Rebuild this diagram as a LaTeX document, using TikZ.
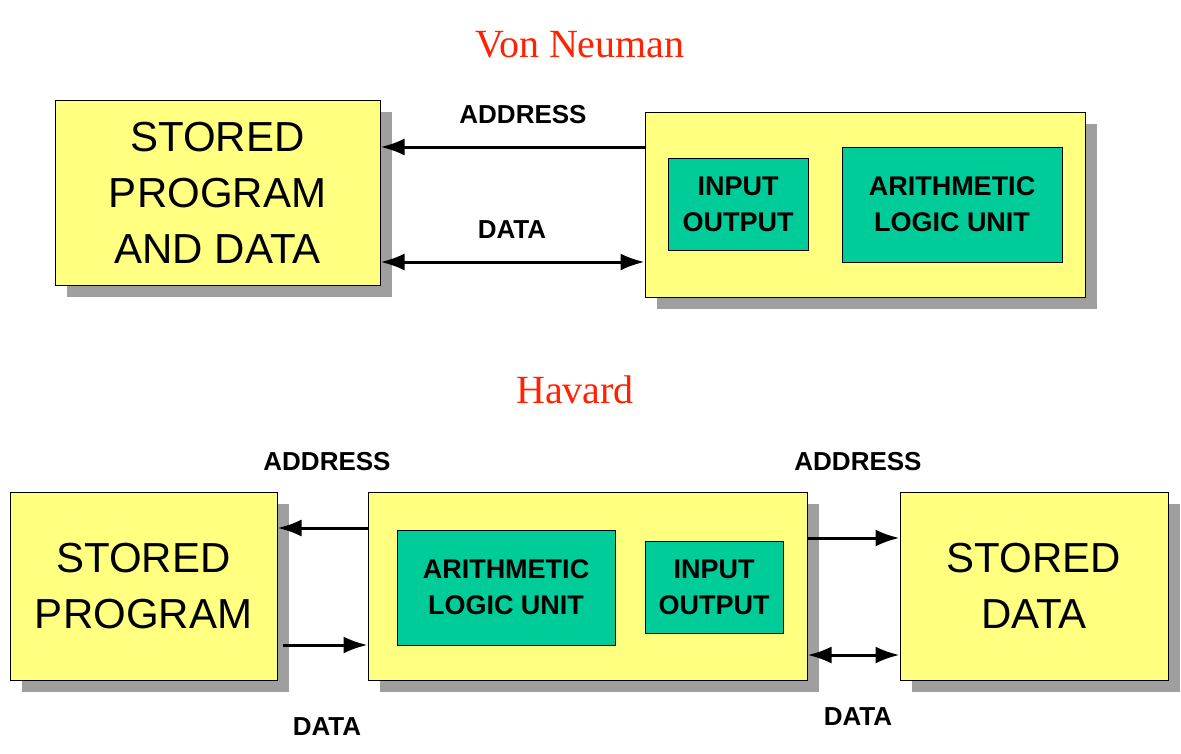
\documentclass[tikz,border=0pt]{standalone}
\usepackage{fontspec}
\setmainfont{Liberation Sans}
\newfontfamily\serifF{Liberation Serif}
\usetikzlibrary{shadows,arrows.meta}
\definecolor{ybg}{HTML}{FFFF80}
\definecolor{gbg}{HTML}{00CC99}
\definecolor{tred}{HTML}{FF2200}
\begin{document}
\begin{tikzpicture}[x=1pt,y=-1pt,
 ybox/.style={draw=black,line width=1pt,fill=ybg,align=center,inner sep=0pt,
   font=\fontsize{42}{56}\selectfont,
   drop shadow={shadow xshift=12pt,shadow yshift=-12pt,fill=gray!75,opacity=1}},
 gbox/.style={draw=black,line width=1pt,fill=gbg,align=center,inner sep=0pt,
   font=\bfseries\fontsize{27}{36}\selectfont},
 lbl/.style={font=\bfseries\fontsize{26}{28}\selectfont},
 ttl/.style={text=tred,font=\serifF\fontsize{40}{42}\selectfont},
 tip/.tip={Latex[length=24pt,width=17pt]},
 arr/.style={line width=3pt,-tip},
 darr/.style={line width=3pt,tip-tip}]
\useasboundingbox[fill=white] (0,0) rectangle (1181,753);
\node[ttl] (t1) at (580,45) {Von Neuman};
\node[ybox,minimum width=325pt,minimum height=185pt] (b1) at (217.5,192.5) {STORED\\PROGRAM\\AND DATA};
\node[ybox,minimum width=440pt,minimum height=185pt] (b2) at (865,204.5) {};
\node[gbox,minimum width=140pt,minimum height=92pt] (io1) at (738,204) {INPUT\\OUTPUT};
\node[gbox,minimum width=220pt,minimum height=115pt] (alu1) at (952,204.5) {ARITHMETIC\\LOGIC UNIT};
\draw[arr] (b2.west |- 0,147) -- (b1.east |- 0,147);
\draw[darr] (b1.east |- 0,262) -- (b2.west |- 0,262);
\node[lbl] (la1) at (523,115) {ADDRESS};
\node[lbl] (ld1) at (512,230) {DATA};

\node[ttl] (t2) at (575,390) {Havard};
\node[ybox,minimum width=267pt,minimum height=188pt] (hl) at (143.5,586) {STORED\\PROGRAM};
\node[ybox,minimum width=439pt,minimum height=188pt] (hm) at (587.5,586) {};
\node[ybox,minimum width=268pt,minimum height=188pt] (hr) at (1034,586) {STORED\\DATA};
\node[gbox,minimum width=218pt,minimum height=115pt] (alu2) at (506,587.5) {ARITHMETIC\\LOGIC UNIT};
\node[gbox,minimum width=138pt,minimum height=92pt] (io2) at (714,587) {INPUT\\OUTPUT};
\draw[arr] (hm.west |- 0,528) -- (hl.east |- 0,528);
\coordinate (dl) at (283,645);
\draw[arr] (dl) -- (hm.west |- dl);
\draw[arr] (hm.east |- 0,538) -- (hr.west |- 0,538);
\draw[darr] (hm.east |- 0,655) -- (hr.west |- 0,655);
\node[lbl] (la2) at (327,462) {ADDRESS};
\node[lbl] (ld2) at (327,727) {DATA};
\node[lbl] (la3) at (858,462) {ADDRESS};
\node[lbl] (ld3) at (858,717) {DATA};
\end{tikzpicture}
\end{document}
